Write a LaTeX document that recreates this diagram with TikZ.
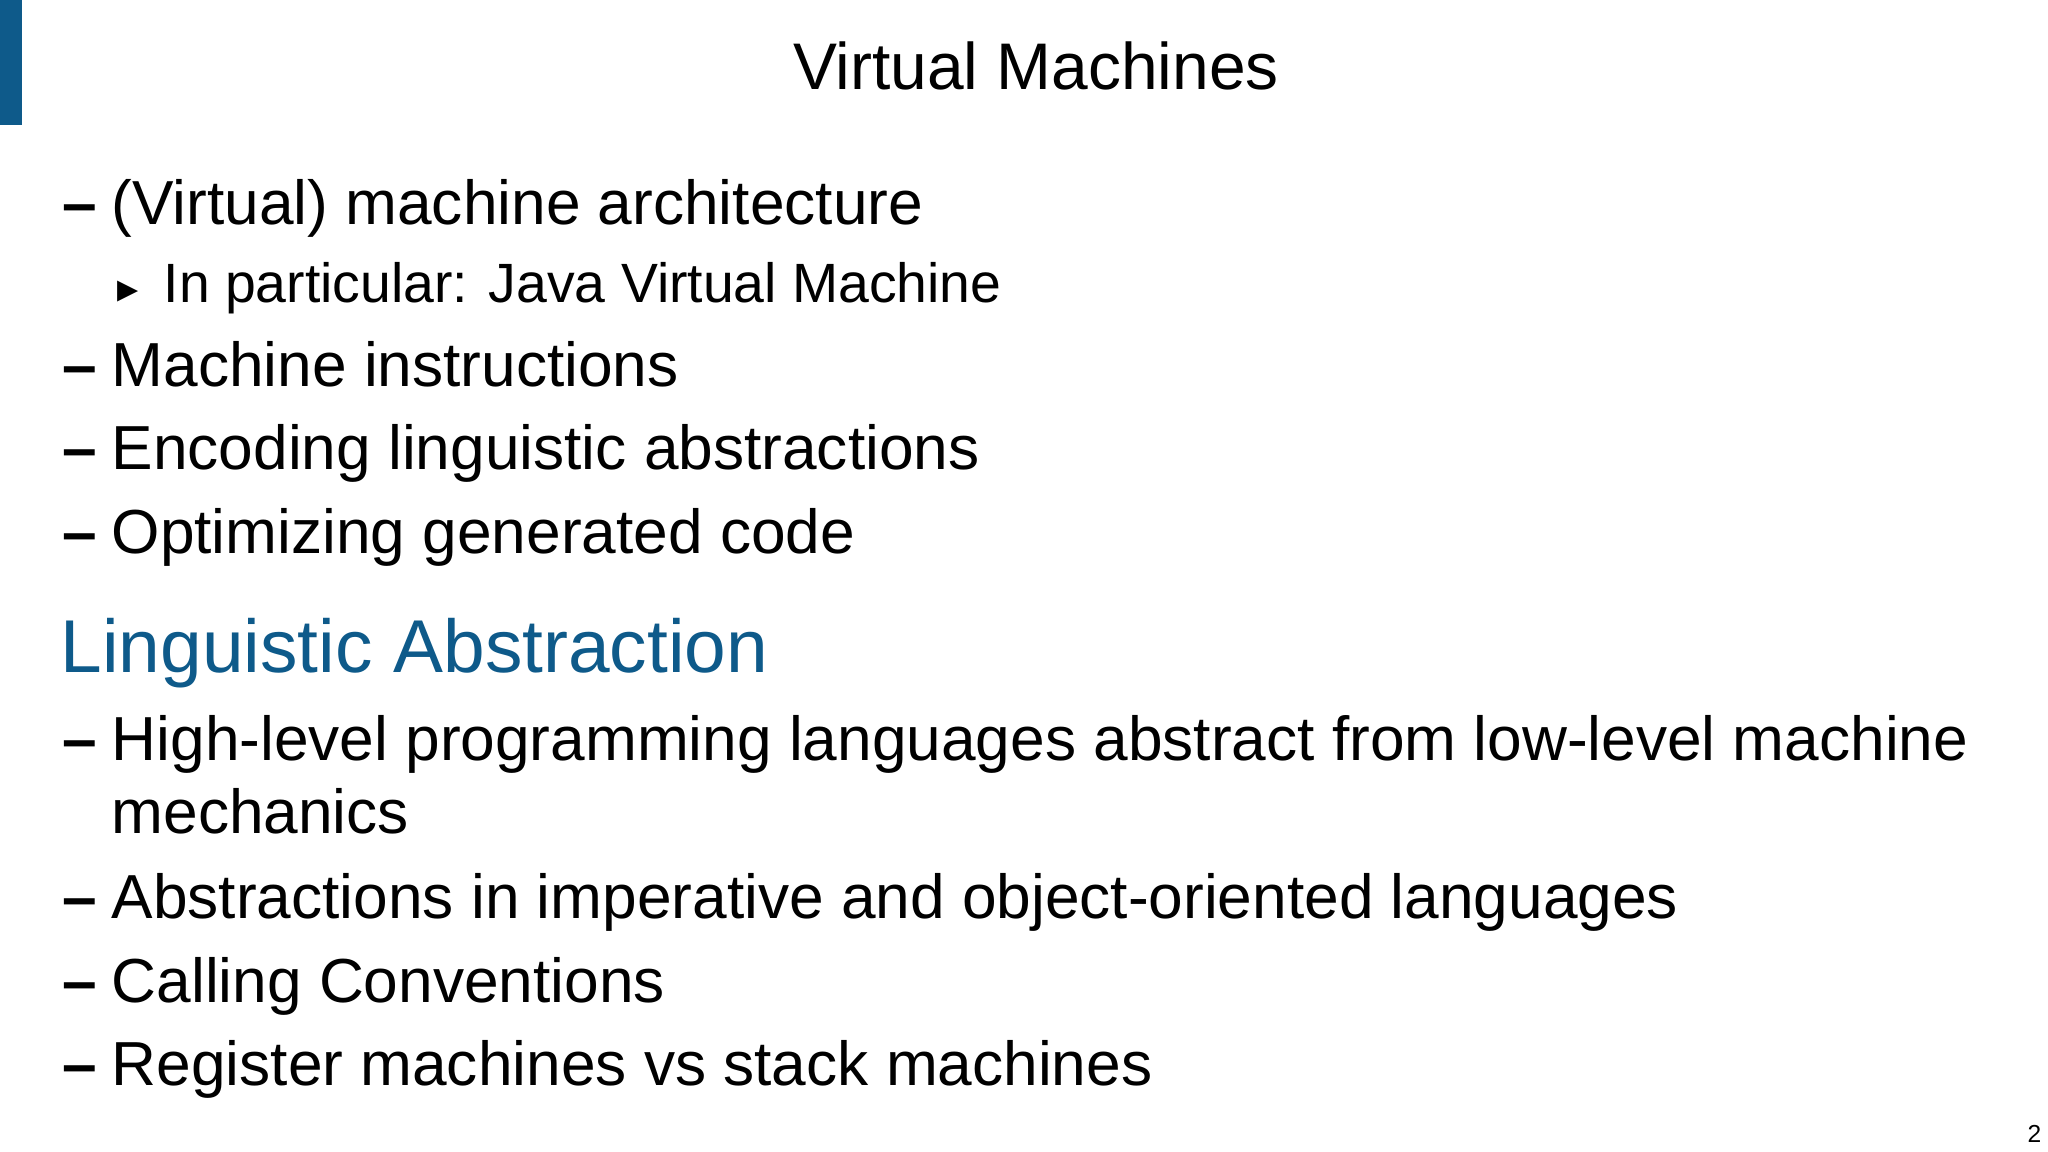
\documentclass[tikz,border=0pt]{standalone}
\usepackage{fontspec}
\setmainfont{Liberation Sans}
\newfontfamily\symfont{DejaVu Sans}
\definecolor{kblue}{HTML}{0E5A8A}
\begin{document}
\begin{tikzpicture}[x=1cm,y=1cm,
  item/.style={anchor=base west,inner sep=0pt,font=\fontsize{17.7pt}{22pt}\selectfont},
  sub/.style={anchor=base west,inner sep=0pt,font=\fontsize{15.75pt}{19pt}\selectfont},
  dashmark/.style={anchor=base west,inner sep=0pt,font=\fontsize{17.7pt}{22pt}\selectfont}]
\useasboundingbox (0,0) rectangle (20.48,-11.52);
\fill[white] (0,0) rectangle (20.48,-11.52);
\fill[kblue] (0,0) rectangle (0.22,-1.25);
\node[anchor=base,inner sep=0pt,font=\fontsize{18.75pt}{22pt}\selectfont] (title) at (10.36,-0.90) {Virtual Machines};
\foreach \n/\y/\t in {a/2.25/(Virtual) machine architecture, b/3.87/Machine instructions, c/4.70/Encoding linguistic abstractions, d/5.54/Optimizing generated code, e/7.61/High-level programming languages abstract from low-level machine, g/9.18/Abstractions in imperative and object-oriented languages, h/10.02/Calling Conventions, i/10.85/Register machines vs stack machines}{
  \node[dashmark] (m\n) at (0.62,-\y) {\textbf{–}};
  \node[item] (t\n) at (1.11,-\y) {\t};
}
\node[item] (tf) at (1.11,-8.33) {mechanics};
\node[sub] (sm) at (1.17,-3.03) {\symfont\fontsize{12pt}{12pt}\selectfont ▸};
\node[sub] (sb) at (1.63,-3.03) {In particular: Java Virtual Machine};
\node[anchor=base west,inner sep=0pt,text=kblue,font=\fontsize{21.3pt}{24pt}\selectfont] (head) at (0.60,-6.73) {Linguistic Abstraction};
\node[anchor=base east,inner sep=0pt,font=\fontsize{7pt}{8pt}\selectfont] (pg) at (20.42,-11.42) {2};
\end{tikzpicture}
\end{document}
